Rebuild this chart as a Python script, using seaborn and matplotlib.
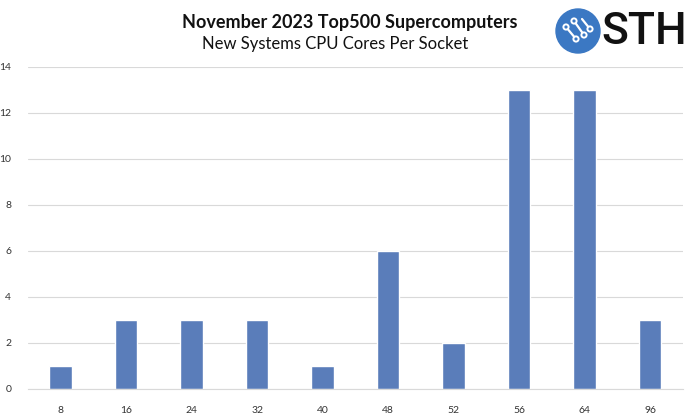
import matplotlib
matplotlib.use("Agg")
import matplotlib.pyplot as plt
import seaborn as sns
import pandas as pd
from matplotlib.patches import Circle
from matplotlib.lines import Line2D

# cores per socket -> number of new systems
cores = ["8", "16", "24", "32", "40", "48", "52", "56", "64", "96"]
systems = [1, 3, 3, 3, 1, 6, 2, 13, 13, 3]

df = pd.DataFrame({"cores": cores, "systems": systems})

sns.set_style("whitegrid", {"grid.color": "#d9d9d9", "axes.edgecolor": "#d9d9d9"})
plt.rcParams["font.family"] = ["Lato", "DejaVu Sans"]

fig = plt.figure(figsize=(6.96, 4.16), dpi=100)
ax = fig.add_axes([0.040, 0.065, 0.941, 0.774])

sns.barplot(data=df, x="cores", y="systems", color="#5a7dba", width=0.34,
            saturation=1, ax=ax)

ax.set_ylim(0, 14)
ax.set_yticks(range(0, 15, 2))
ax.set_xlabel("")
ax.set_ylabel("")
ax.grid(axis="x", visible=False)
ax.grid(axis="y", color="#d9d9d9", linewidth=0.8)
for s in ["top", "right", "left"]:
    ax.spines[s].set_visible(False)
ax.spines["bottom"].set_color("#d9d9d9")
ax.tick_params(axis="both", labelsize=7.5, colors="#333333", length=0)
ax.tick_params(axis="x", pad=12)
ax.tick_params(axis="y", pad=12)

fig.text(0.502, 0.945, "November 2023 Top500 Supercomputers", ha="center",
         va="center", fontsize=13, fontweight="bold", color="#111111")
fig.text(0.482, 0.895, "New Systems CPU Cores Per Socket", ha="center",
         va="center", fontsize=12, color="#111111")

# STH logo: blue disc with a little white circuit, then the letters
cx, cy = 578, 416 - 31
fig.patches.append(Circle((cx, cy), 22, transform=None, color="#3b78c3", zorder=5))
for (x0, y0, x1, y1) in [(-12, 4, -2, -8), (-4, 10, 6, -4), (4, 12, 12, 2)]:
    fig.lines.append(Line2D([cx + x0, cx + x1], [cy + y0, cy + y1], transform=None,
                            color="white", linewidth=1.6, zorder=6))
for (dx, dy) in [(-12, 4), (-2, -8), (-4, 10), (6, -4), (12, 2)]:
    fig.patches.append(Circle((cx + dx, cy + dy), 2.6, transform=None, facecolor="#3b78c3",
                              edgecolor="white", linewidth=1.4, zorder=7))
fig.text(0.864, 0.922, "STH", ha="left", va="center", fontsize=32,
         color="#111111", family=["Roboto", "DejaVu Sans"], fontweight="medium")

fig.savefig("out.png", dpi=100)
